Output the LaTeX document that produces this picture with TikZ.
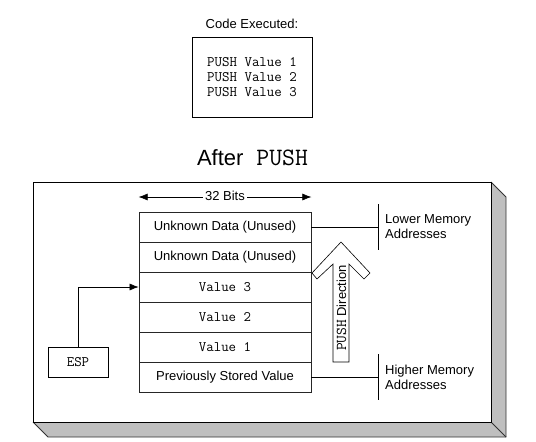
\documentclass[tikz,border=0pt]{standalone}
\usepackage{fontspec}
\setmainfont{Liberation Sans}
\usetikzlibrary{arrows.meta,calc}
\begin{document}
\begin{tikzpicture}[x=1pt,y=-1pt,
  txt/.style={font=\fontsize{13}{15}\selectfont, inner sep=0pt},
  mono/.style={font=\fontsize{14.5}{15}\selectfont\ttfamily},
  cell/.style={draw=black!85, line width=0.8pt, minimum width=172pt, minimum height=30pt, inner sep=0pt, font=\fontsize{13}{15}\selectfont},
  thin/.style={line width=0.6pt},
  tip/.style={-{Latex[length=9pt,width=7pt]}}
]
\useasboundingbox (0,0) rectangle (536,442);
% code box
\node[txt] (title) at (252,24) {Code Executed:};
\node[draw, thin, minimum width=120pt, minimum height=80pt, align=left,
      font=\fontsize{14.5}{15}\selectfont\ttfamily] (code) at (252,77)
  {PUSH Value 1\\PUSH Value 2\\PUSH Value 3};
\node[inner sep=0pt, font=\fontsize{22}{26}\selectfont] (after) at (252.5,158)
  {After\hspace{13pt}{\fontsize{25}{28}\selectfont\ttfamily PUSH}};
% panel with 3D edge
\fill[black!25] (491,182) -- (506,197) -- (506,437) -- (48,437) -- (33,422) -- (491,422) -- cycle;
\draw[line width=0.8pt, black!80] (491,182) -- (506,197) -- (506,437) -- (48,437) -- (33,422);
\draw[line width=0.8pt, black!80] (491,422) -- (506,437);
\draw[line width=1pt, fill=white] (33,182) rectangle (491,422);
% stack
\node[cell] (r1) at (225,227) {Unknown Data (Unused)};
\node[cell] (r2) at (225,257) {Unknown Data (Unused)};
\node[cell, mono] (r3) at (225,287) {Value 3};
\node[cell, mono] (r4) at (225,317) {Value 2};
\node[cell, mono] (r5) at (225,347) {Value 1};
\node[cell] (r6) at (225,377) {Previously Stored Value};
% 32 bits
\coordinate (bl) at (r1.north west |- 0,197);
\coordinate (br) at (r1.north east |- 0,197);
\draw[thin, {Latex[length=9pt,width=7pt]}-{Latex[length=9pt,width=7pt]}] (bl) -- (br);
\node[txt, fill=white, inner xsep=2pt] (bits) at (225,196) {32 Bits};
% lower / higher
\coordinate (lo) at (378,227);
\draw[thin] (r1.east) -- (lo);
\draw[thin] (378,204) -- (378,250);
\node[txt, anchor=west, align=left] (lotxt) at (385,227) {Lower Memory\\Addresses};
\coordinate (hi) at (378,377);
\draw[thin] (r6.east) -- (hi);
\draw[thin] (378,354) -- (378,400);
\node[txt, anchor=west, align=left] (hitxt) at (385,377) {Higher Memory\\Addresses};
% push direction arrow
\draw[thin, fill=white] (333,362) -- (333,264) -- (317,279) -- (312,273) -- (341,242)
  -- (370,273) -- (364,279) -- (349,264) -- (349,362) -- cycle;
\node[rotate=90, inner sep=0pt, font=\fontsize{13}{15}\selectfont] (pd) at (341.5,308)
  {{\fontsize{15}{15}\selectfont\ttfamily PUSH} Direction};
% ESP
\node[draw, thin, minimum width=60pt, minimum height=30pt, mono] (esp) at (78,362) {ESP};
\draw[thin, tip] (esp.north) |- (r3.west);
\end{tikzpicture}
\end{document}
